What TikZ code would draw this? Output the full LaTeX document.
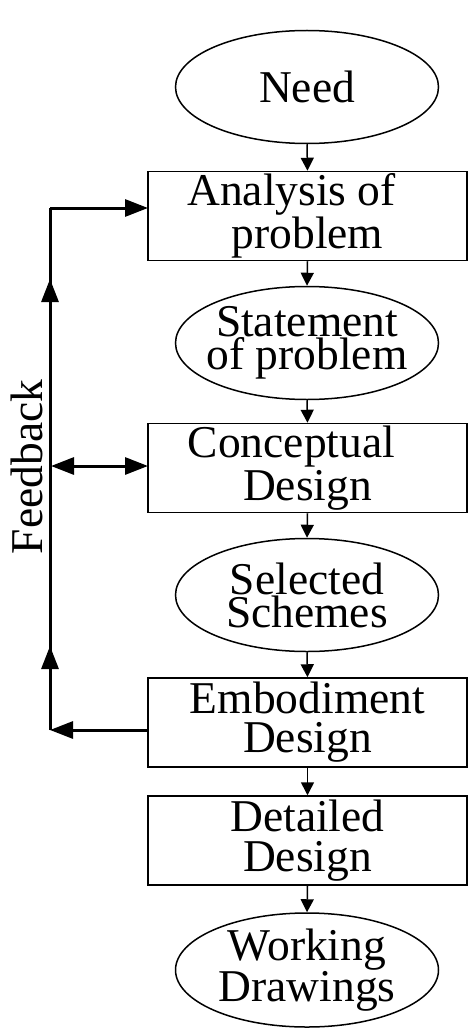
\documentclass[tikz,border=0pt]{standalone}
\usepackage{fontspec}
\setmainfont{Liberation Serif}
\usetikzlibrary{shapes.geometric,arrows.meta}
\newcommand{\fs}[1]{\fontsize{45.5}{#1}\selectfont}
\tikzset{
  boxnode/.style={draw, line width=1.5pt, rectangle, minimum width=319pt, minimum height=89pt, inner sep=0pt, align=center, font=\fs{41}},
  ellnode/.style={draw, line width=1.5pt, ellipse, minimum width=263pt, minimum height=113pt, inner sep=-20pt, align=center, font=\fs{33}},
  flow/.style={line width=1.5pt, -{Triangle[length=13pt,width=13pt]}},
  fb/.style={line width=3pt},
  fbtip/.style={line width=3pt, -{Triangle[length=23pt,width=17pt]}},
}
\begin{document}
\begin{tikzpicture}[x=1pt,y=-1pt]
\useasboundingbox (0,0) rectangle (474,1035);
\node[ellnode] (need) at (307,87) {Need};
\node[boxnode] (ana) at (307.5,216) {Analysis of\hspace*{32pt}\\problem};
\node[ellnode] (stat) at (307,343) {Statement\\of problem};
\node[boxnode, font=\fs{43}] (conc) at (307.5,468) {Conceptual\hspace*{32pt}\\Design};
\node[ellnode, font=\fs{32}] (sel) at (307,595) {Selected\\Schemes};
\node[boxnode, font=\fs{39}] (emb) at (307.5,722.5) {Embodiment\\Design};
\node[boxnode, font=\fs{40}] (det) at (307.5,840.5) {Detailed\\Design};
\node[ellnode, minimum height=114pt, font=\fs{37}] (work) at (307,970) {Working\\Drawings};
\node[rotate=90, anchor=base, font=\fs{50}] (fbtext) at (42,467) {Feedback};

\draw[flow] (need.south) -- (ana.north);
\draw[flow] (ana.south) -- (stat.north);
\draw[flow] (stat.south) -- (conc.north);
\draw[flow] (conc.south) -- (sel.north);
\draw[flow] (sel.south) -- (emb.north);
\draw[flow] (emb.south) -- (det.north);
\draw[flow] (det.south) -- (work.north);

\coordinate (fbtop) at (50,208);
\coordinate (fbbot) at (50,730);
\coordinate (fbmid) at (51,466);
\coordinate (up1base) at (50,305);
\coordinate (up1tip) at (50,279);
\coordinate (up2base) at (50,672);
\coordinate (up2tip) at (50,646);
\coordinate (embout) at (148,730);
\coordinate (anain) at (148,208);
\coordinate (concin) at (148,466);

\draw[fb] (fbbot) -- (fbtop);
\draw[fbtip, line cap=butt] (fbtop) -- (anain);
\draw[fbtip] (embout) -- (fbbot);
\draw[line width=3pt, {Triangle[length=23pt,width=17pt]}-{Triangle[length=23pt,width=17pt]}] (fbmid) -- (concin);
\draw[fbtip] (up1base) -- (up1tip);
\draw[fbtip] (up2base) -- (up2tip);
\end{tikzpicture}
\end{document}
